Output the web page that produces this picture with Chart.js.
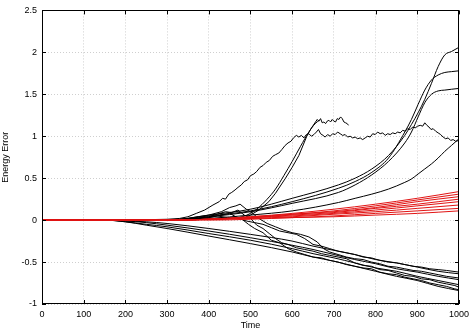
<!DOCTYPE html>
<html>
<head>
<meta charset="utf-8">
<script src="https://cdn.jsdelivr.net/npm/chart.js@4.4.1/dist/chart.umd.min.js"></script>
<style>
  html, body { margin: 0; padding: 0; background: #fff; }
  #energy_chart { display: block; }
</style>
</head>
<body>
<canvas id="energy_chart" width="474" height="332"></canvas>
<script>
// axis ticks
var timeTicks = [0, 100, 200, 300, 400, 500, 600, 700, 800, 900, 1000];
var errorTicks = [-1, -0.5, 0, 0.5, 1, 1.5, 2, 2.5];

// red runs (shared time grid)
var redT = [0, 200, 300, 400, 500, 600, 700, 800, 900, 1000];
var red1 = [0, 0, 0, 0.01, 0.04, 0.08, 0.13, 0.19, 0.26, 0.34];
var red2 = [0, 0, 0, 0.01, 0.04, 0.07, 0.11, 0.17, 0.24, 0.31];
var red3 = [0, 0, 0, 0.01, 0.03, 0.07, 0.10, 0.15, 0.22, 0.28];
var red4 = [0, 0, 0, 0.01, 0.03, 0.06, 0.09, 0.14, 0.19, 0.25];
var red5 = [0, 0, 0, 0.01, 0.03, 0.05, 0.08, 0.12, 0.17, 0.22];
var red6 = [0, 0, 0, 0.01, 0.02, 0.04, 0.07, 0.10, 0.14, 0.18];
var red7 = [0, 0, 0, 0.01, 0.02, 0.03, 0.05, 0.08, 0.11, 0.14];
var red8 = [0, 0, 0, 0, 0.01, 0.03, 0.04, 0.06, 0.08, 0.11];

// black run that climbs to ~1 and wanders there
var plateauT = [0, 200, 300, 330, 350, 370, 390, 410, 425, 433, 440, 448, 455, 463, 470, 478, 485, 493, 500, 508, 515, 523,
  530, 538, 545, 553, 560, 568, 575, 583, 590, 597, 603, 610, 616, 622, 628, 634, 640, 646, 652, 658, 663, 668, 674, 679,
  685, 691, 697, 703, 709, 715, 721, 727, 733, 739, 745, 751, 757, 763, 769, 775, 781, 787, 793, 799, 805, 811, 817, 823,
  829, 835, 841, 847, 853, 859, 865, 871, 877, 883, 889, 895, 901, 907, 913, 918, 923, 928, 933, 938, 944, 950, 956, 962,
  968, 974, 980, 986, 992, 1000];
var plateauE = [0, 0, 0.01, 0.02, 0.04, 0.08, 0.12, 0.18, 0.22, 0.26, 0.25, 0.31, 0.33, 0.36, 0.39, 0.42, 0.46, 0.48, 0.53, 0.55, 0.58, 0.63,
  0.65, 0.69, 0.71, 0.76, 0.78, 0.80, 0.84, 0.89, 0.92, 0.94, 0.98, 1.01, 0.99, 1.01, 0.98, 1.02, 1.03, 1.0, 1.02, 1.05, 1.08, 1.03, 1.01, 0.99,
  1.02, 1.0, 1.03, 1.02, 1.05, 1.03, 1.01, 1.02, 0.99, 1.0, 0.98, 0.99, 0.97, 0.98, 0.96, 0.98, 1.0, 0.99, 1.03, 1.02, 1.05, 1.03, 1.04, 1.01,
  1.03, 1.02, 1.04, 1.03, 1.05, 1.04, 1.07, 1.06, 1.09, 1.08, 1.11, 1.10, 1.12, 1.13, 1.12, 1.16, 1.13, 1.11, 1.08, 1.09, 1.06, 1.04, 1.02, 0.99,
  0.97, 0.98, 0.95, 0.96, 0.94, 0.95];

// black run shooting up to ~1.2 and stopping early
var spikeT = [0, 300, 400, 450, 488, 500, 520, 544, 560, 584, 600, 616, 635, 645, 656, 660, 664, 668, 672, 676, 680, 684, 688,
  692, 696, 700, 704, 708, 712, 716, 720, 724, 728, 732, 735];
var spikeE = [0, 0, 0.01, 0.02, 0.03, 0.06, 0.12, 0.22, 0.32, 0.5, 0.63, 0.77, 1.0, 1.09, 1.17, 1.2, 1.18, 1.21, 1.16, 1.17, 1.15, 1.18, 1.19,
  1.17, 1.2, 1.18, 1.17, 1.21, 1.2, 1.23, 1.21, 1.17, 1.16, 1.15, 1.13];
var spike2T = [0, 300, 400, 450, 480, 500, 515, 540, 560, 580, 600, 620, 640, 655, 665];
var spike2E = [0, 0, 0.01, 0.02, 0.04, 0.08, 0.13, 0.25, 0.37, 0.53, 0.7, 0.88, 1.05, 1.15, 1.19];

// smooth black runs growing late
var riseT = [0, 300, 400, 500, 600, 711, 751, 791, 831, 870, 886, 902, 918, 934, 950, 966, 982, 1000];
var rise1 = [0, 0, 0.06, 0.13, 0.26, 0.42, 0.50, 0.61, 0.77, 1.01, 1.14, 1.28, 1.44, 1.63, 1.83, 1.97, 2.01, 2.06];
var rise2 = [0, 0, 0.05, 0.11, 0.22, 0.38, 0.46, 0.57, 0.74, 1.05, 1.20, 1.38, 1.55, 1.67, 1.73, 1.76, 1.77, 1.78];
var rise3 = [0, 0, 0.04, 0.10, 0.20, 0.33, 0.42, 0.54, 0.70, 0.92, 1.05, 1.23, 1.40, 1.50, 1.54, 1.55, 1.56, 1.57];
var rise4 = [0, 0, 0.02, 0.06, 0.11, 0.21, 0.26, 0.31, 0.37, 0.45, 0.49, 0.55, 0.61, 0.67, 0.74, 0.82, 0.89, 0.97];

// smooth black runs drifting down from early on
var driftT = [0, 150, 200, 250, 300, 400, 500, 600, 650, 700, 750, 800, 850, 900, 950, 1000];
var drift1 = [0, 0, -0.01, -0.02, -0.04, -0.10, -0.17, -0.25, -0.31, -0.36, -0.41, -0.47, -0.51, -0.56, -0.61, -0.64];
var drift2 = [0, 0, -0.01, -0.03, -0.06, -0.13, -0.21, -0.30, -0.35, -0.41, -0.47, -0.52, -0.58, -0.62, -0.67, -0.71];
var drift3 = [0, 0, -0.02, -0.05, -0.08, -0.16, -0.24, -0.34, -0.40, -0.45, -0.51, -0.57, -0.61, -0.67, -0.72, -0.77];
var drift4 = [0, 0, -0.02, -0.06, -0.10, -0.19, -0.28, -0.38, -0.44, -0.49, -0.55, -0.61, -0.67, -0.72, -0.79, -0.84];

// noisy black runs that bump up then fall
var fall1T = [0, 300, 350, 400, 420, 440, 455, 470, 485, 500, 515, 530, 545, 560, 575, 590, 610, 630, 650, 670, 690, 710, 730, 750,
  770, 790, 810, 830, 850, 870, 890, 910, 930, 950, 970, 990, 1000];
var fall1E = [0, 0, 0.01, 0.04, 0.07, 0.10, 0.09, 0.12, 0.06, 0.02, -0.06, -0.10, -0.16, -0.22, -0.27, -0.29, -0.33, -0.35, -0.37, -0.40, -0.42, -0.44, -0.46, -0.51,
  -0.54, -0.55, -0.59, -0.60, -0.63, -0.66, -0.67, -0.70, -0.71, -0.74, -0.76, -0.78, -0.80];
var fall2T = [0, 300, 350, 400, 430, 450, 465, 480, 495, 510, 530, 550, 570, 590, 610, 630, 650, 670, 690, 710, 730, 750, 770,
  790, 810, 830, 850, 870, 890, 910, 930, 950, 970, 990, 1000];
var fall2E = [0, 0, 0.01, 0.03, 0.06, 0.08, 0.04, 0.01, -0.05, -0.10, -0.15, -0.24, -0.27, -0.34, -0.38, -0.41, -0.44, -0.45, -0.48, -0.50, -0.53, -0.55, -0.57,
  -0.58, -0.62, -0.64, -0.65, -0.68, -0.70, -0.72, -0.75, -0.77, -0.79, -0.82, -0.83];
var fall3T = [0, 300, 350, 400, 430, 450, 465, 475, 490, 505, 520, 540, 560, 580, 600, 620, 640, 660, 675, 690, 710, 730, 750,
  770, 790, 810, 830, 850, 870, 890, 910, 930, 950, 970, 1000];
var fall3E = [0, 0, 0.02, 0.06, 0.10, 0.15, 0.17, 0.19, 0.13, 0.08, 0.02, -0.04, -0.08, -0.12, -0.15, -0.17, -0.20, -0.26, -0.34, -0.38, -0.41, -0.44, -0.46,
  -0.47, -0.50, -0.52, -0.55, -0.56, -0.58, -0.60, -0.61, -0.63, -0.65, -0.67, -0.69];
var fall4T = [0, 300, 350, 400, 420, 445, 470, 490, 510, 530, 550, 570, 590, 610, 630, 650, 670, 690, 710, 730, 750, 770, 790,
  810, 830, 850, 870, 890, 910, 930, 950, 970, 1000];
var fall4E = [0, 0, 0.01, 0.03, 0.05, 0.03, 0.02, -0.01, -0.03, -0.05, -0.09, -0.13, -0.15, -0.17, -0.22, -0.29, -0.31, -0.34, -0.37, -0.39, -0.41, -0.44, -0.45,
  -0.48, -0.50, -0.51, -0.53, -0.55, -0.56, -0.58, -0.59, -0.60, -0.62];

var BLACK = '#000000';
var RED = 'rgb(225,20,20)';
var FONT = { family: '"Liberation Sans", Arial, sans-serif', size: 9 };

function pts(t, e) {
  return t.map(function (v, i) { return { x: v, y: e[i] }; });
}

function run(t, e, color, smooth) {
  return {
    data: pts(t, e),
    borderColor: color,
    borderWidth: 1,
    pointRadius: 0,
    fill: false,
    tension: 0,
    cubicInterpolationMode: smooth ? 'monotone' : 'default',
    order: color === RED ? 0 : 1
  };
}

var datasets = [];
[red1, red2, red3, red4, red5, red6, red7, red8].forEach(function (r) {
  datasets.push(run(redT, r, RED, true));
});
[rise1, rise2, rise3, rise4].forEach(function (r) { datasets.push(run(riseT, r, BLACK, true)); });
[drift1, drift2, drift3, drift4].forEach(function (r) { datasets.push(run(driftT, r, BLACK, true)); });
datasets.push(run(plateauT, plateauE, BLACK, false));
datasets.push(run(spikeT, spikeE, BLACK, false));
datasets.push(run(spike2T, spike2E, BLACK, true));
datasets.push(run(fall1T, fall1E, BLACK, false));
datasets.push(run(fall2T, fall2E, BLACK, false));
datasets.push(run(fall3T, fall3E, BLACK, false));
datasets.push(run(fall4T, fall4E, BLACK, false));

// box around the plot with small inward tick marks on every side
var framePlugin = {
  id: 'frame',
  afterDatasetsDraw(chart) {
    var a = chart.chartArea, ctx = chart.ctx;
    var xs = chart.scales.x, ys = chart.scales.y;
    ctx.save();
    ctx.strokeStyle = BLACK;
    ctx.lineWidth = 1;
    ctx.beginPath();
    xs.ticks.forEach(function (t) {
      var p = Math.round(xs.getPixelForValue(t.value)) + 0.5;
      ctx.moveTo(p, a.bottom); ctx.lineTo(p, a.bottom - 4);
      ctx.moveTo(p, a.top); ctx.lineTo(p, a.top + 4);
    });
    ys.ticks.forEach(function (t) {
      var p = Math.round(ys.getPixelForValue(t.value)) + 0.5;
      ctx.moveTo(a.left, p); ctx.lineTo(a.left + 4, p);
      ctx.moveTo(a.right, p); ctx.lineTo(a.right - 4, p);
    });
    ctx.stroke();
    ctx.strokeRect(Math.round(a.left) + 0.5, Math.round(a.top) + 0.5,
      Math.round(a.right - a.left) - 1, Math.round(a.bottom - a.top) - 1);
    ctx.restore();
  }
};

new Chart(document.getElementById('energy_chart').getContext('2d'), {
  type: 'line',
  data: { datasets: datasets },
  plugins: [framePlugin],
  options: {
    responsive: false,
    animation: false,
    layout: { padding: { left: 0, top: 6, right: 13, bottom: 0 } },
    plugins: {
      legend: { display: false },
      tooltip: { enabled: false }
    },
    scales: {
      x: {
        type: 'linear',
        min: timeTicks[0],
        max: timeTicks[timeTicks.length - 1],
        afterBuildTicks: function (scale) { scale.ticks = timeTicks.map(function (v) { return { value: v }; }); },
        afterFit: function (scale) { scale.height = 28; },
        ticks: {
          autoSkip: false, maxRotation: 0, padding: 5, color: BLACK, font: FONT,
          callback: function (v) { return String(v); }
        },
        grid: { color: '#cfcfcf', drawTicks: false },
        border: { display: false, dash: [1, 2] },
        title: { display: true, text: 'Time', color: BLACK, font: FONT, padding: { top: 0, bottom: 1 } }
      },
      y: {
        type: 'linear',
        min: errorTicks[0],
        max: errorTicks[errorTicks.length - 1],
        afterBuildTicks: function (scale) { scale.ticks = errorTicks.map(function (v) { return { value: v }; }); },
        afterFit: function (scale) { scale.width = 42; },
        ticks: {
          padding: 5, color: BLACK, font: FONT,
          callback: function (v) { return String(v); }
        },
        grid: { color: '#cfcfcf', drawTicks: false },
        border: { display: false, dash: [1, 2] },
        title: { display: true, text: 'Energy Error', color: BLACK, font: FONT, padding: { top: 0, bottom: 0 } }
      }
    }
  }
});
</script>
</body>
</html>
